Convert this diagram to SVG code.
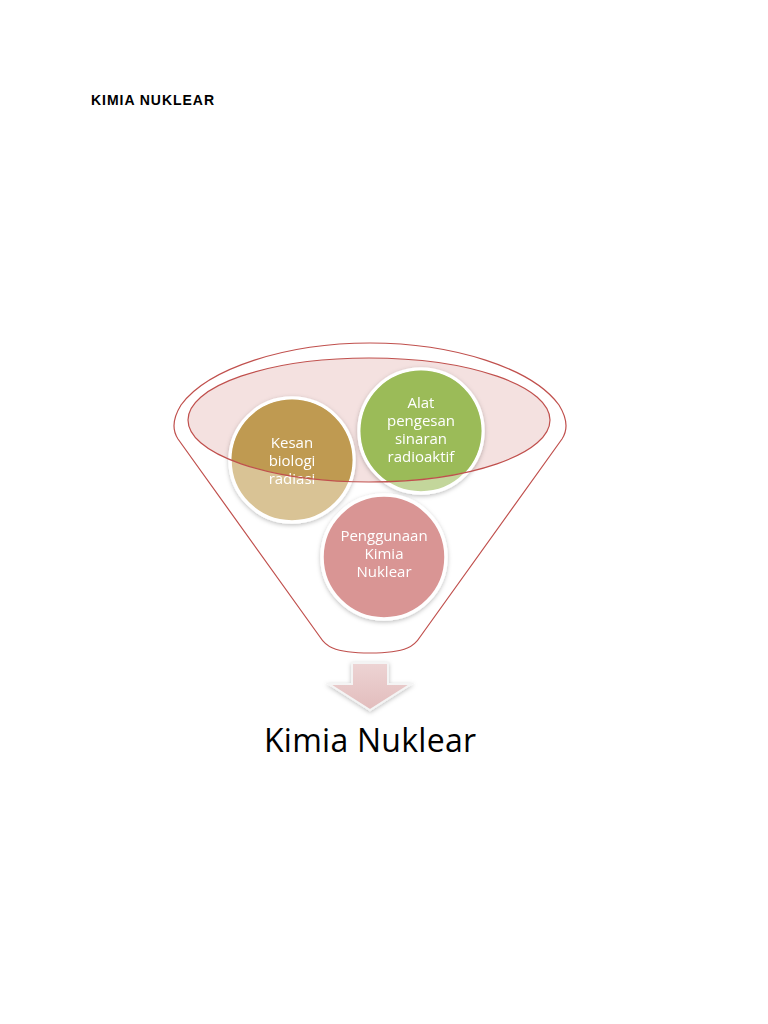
<svg xmlns="http://www.w3.org/2000/svg" width="768" height="1024" viewBox="0 0 768 1024">
<style>
.lbl{font-family:"Open Sans","Liberation Sans",sans-serif;font-size:15px;fill:#fff;text-anchor:middle}
.ring{stroke:#fff;stroke-width:3.5}
</style>
<defs>
<clipPath id="ell"><ellipse cx="369" cy="420" rx="181" ry="62"/></clipPath>
<filter id="sh" x="-20%" y="-20%" width="140%" height="140%"><feDropShadow dx="0" dy="1.5" stdDeviation="2" flood-color="#000" flood-opacity="0.25"/></filter>
<linearGradient id="arr" x1="0" y1="0" x2="0" y2="1"><stop offset="0" stop-color="#edd4d4"/><stop offset="1" stop-color="#e2bcbc"/></linearGradient>
</defs>
<rect width="768" height="1024" fill="#fff"/>
<text x="91" y="105" font-family="Liberation Sans,Arial,sans-serif" font-weight="bold" font-size="14" textLength="123">KIMIA NUKLEAR</text>
<g id="funnel">
<path d="M178,439 C172,430 173,418 181,405 C208,368 287,343 370,343 C453,343 532,368 559,405 C567,418 568,430 562,439 L420,637 C415,645 408,653 370,653 C332,653 325,645 320,637 Z" fill="#fff" stroke="#c0504d" stroke-width="1.2"/>
<ellipse cx="369" cy="420" rx="181" ry="62" fill="#f2dcdb" opacity="0.85"/>
</g>
<g id="node-kesan" filter="url(#sh)">
<circle cx="292" cy="460" r="62" fill="#d9c395" class="ring"/>
<circle cx="292" cy="460" r="60.5" fill="#bf9a51" clip-path="url(#ell)"/>
<text class="lbl" x="292" y="448">Kesan</text>
<text class="lbl" x="292" y="466">biologi</text>
<text class="lbl" x="292" y="484">radiasi</text>
</g>
<g id="node-alat" filter="url(#sh)">
<circle cx="421" cy="431" r="62" fill="#c3d69b" class="ring"/>
<circle cx="421" cy="431" r="60.5" fill="#9bbb59" clip-path="url(#ell)"/>
<text class="lbl" x="421" y="408">Alat</text>
<text class="lbl" x="421" y="426">pengesan</text>
<text class="lbl" x="421" y="444">sinaran</text>
<text class="lbl" x="421" y="462">radioaktif</text>
</g>
<g id="node-penggunaan" filter="url(#sh)">
<circle cx="384" cy="557" r="62" fill="#d99594" class="ring"/>
<text class="lbl" x="384" y="541">Penggunaan</text>
<text class="lbl" x="384" y="559">Kimia</text>
<text class="lbl" x="384" y="577">Nuklear</text>
</g>
<g id="rim">
<ellipse cx="369" cy="420" rx="181" ry="62" fill="none" stroke="#c0504d" stroke-width="1.2"/>
</g>
<g id="connectors">
<path d="M352,663 L388,663 L388,684 L411,684 L370,710 L329,684 L352,684 Z" fill="url(#arr)" stroke="#f4f4f4" stroke-width="2" stroke-linejoin="miter" filter="url(#sh)"/>
</g>
<g id="node-result">
<text x="370" y="752" font-family="Open Sans,Liberation Sans,sans-serif" font-size="32" fill="#000" text-anchor="middle" textLength="212">Kimia Nuklear</text>
</g>
</svg>
